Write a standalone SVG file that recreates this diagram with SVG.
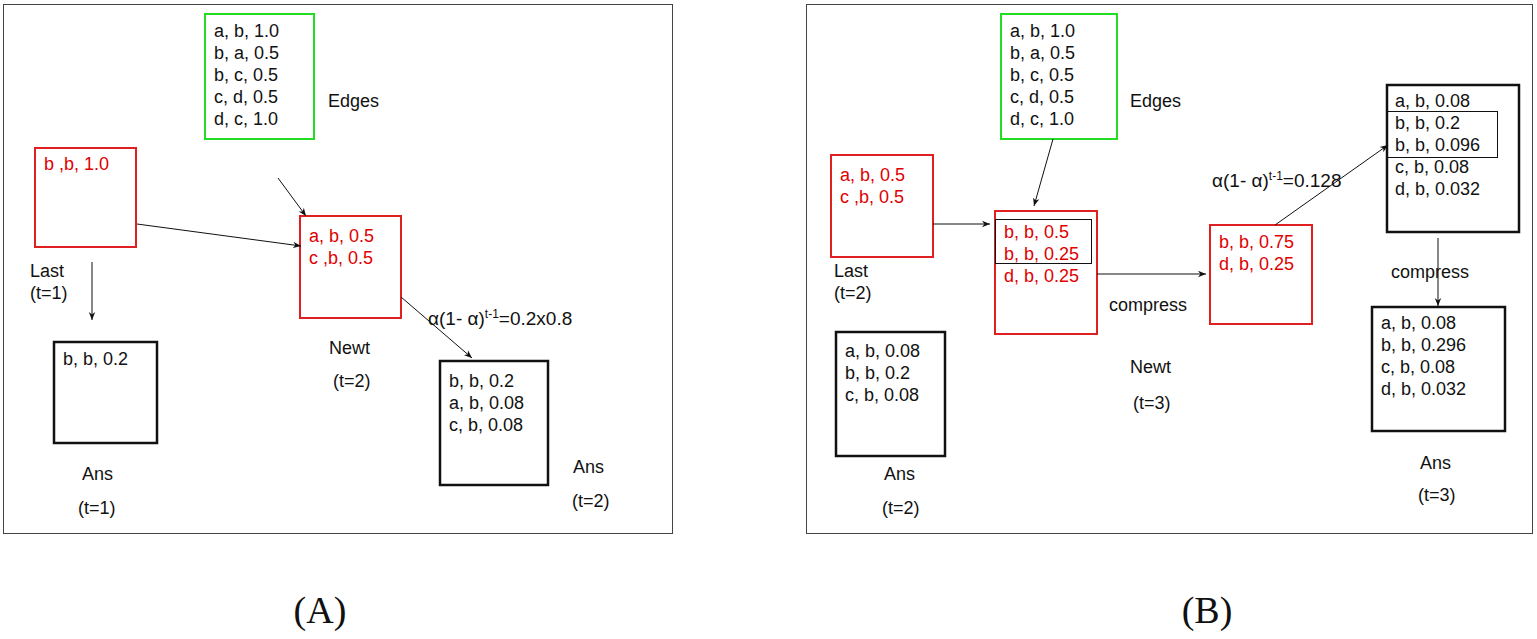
<svg xmlns="http://www.w3.org/2000/svg" width="1537" height="639" viewBox="0 0 1537 639">
<style>
text{font-family:"Liberation Sans",Arial,sans-serif;font-size:18px;fill:#111}
.r{fill:#e00000}
.g{fill:none;stroke:#22dd22;stroke-width:2}
.rb{fill:none;stroke:#e02020;stroke-width:2}
.bb{fill:none;stroke:#111;stroke-width:2.5}
.in{fill:none;stroke:#111;stroke-width:1}
.fr{fill:#fff;stroke:#444;stroke-width:1}
.c line{stroke:#111;stroke-width:1;marker-end:url(#a)}
.cap{font-family:"Liberation Serif","Times New Roman",serif;font-size:38px}
.al{font-size:19px}
</style>
<defs><marker id="a" viewBox="0 0 10 10" refX="10" refY="5" markerWidth="8" markerHeight="8" orient="auto" markerUnits="userSpaceOnUse"><path d="M0,1 L10,5 L0,9 L3,5z" fill="#111"/></marker></defs>
<rect width="1537" height="639" fill="#fff"/>
<rect class="fr" x="3.5" y="4.5" width="669" height="529"/>
<rect class="fr" x="806.5" y="4.5" width="726" height="529"/>
<g id="A-edges"><rect class="g" x="205" y="14" width="109" height="125"/>
<text x="214" y="37">a, b, 1.0</text><text x="214" y="59">b, a, 0.5</text><text x="214" y="81">b, c, 0.5</text><text x="214" y="103">c, d, 0.5</text><text x="214" y="125">d, c, 1.0</text>
<text x="328" y="107">Edges</text></g>
<g id="A-last"><rect class="rb" x="35" y="148" width="101" height="99"/><text class="r" x="44" y="170">b ,b, 1.0</text>
<text x="30" y="277">Last</text><text x="30" y="299">(t=1)</text></g>
<g id="A-newt"><rect class="rb" x="300" y="216" width="101" height="102"/><text class="r" x="309" y="242">a, b, 0.5</text><text class="r" x="309" y="264">c ,b, 0.5</text>
<text x="329" y="354">Newt</text><text x="333" y="387">(t=2)</text></g>
<g id="A-ans1"><rect class="bb" x="54" y="342" width="103" height="101"/><text x="63" y="365">b, b, 0.2</text>
<text x="82" y="480">Ans</text><text x="78" y="514">(t=1)</text></g>
<g id="A-ans2"><rect class="bb" x="440" y="361" width="108" height="124"/><text x="449" y="387">b, b, 0.2</text><text x="449" y="409">a, b, 0.08</text><text x="449" y="431">c, b, 0.08</text>
<text x="573" y="473">Ans</text><text x="572" y="507">(t=2)</text></g>
<text class="al" x="428" y="325">α(1- α)<tspan font-size="12" dy="-7">t-1</tspan><tspan dy="7">=0.2x0.8</tspan></text>

<g id="B-edges"><rect class="g" x="1001" y="14" width="116" height="125"/>
<text x="1010" y="37">a, b, 1.0</text><text x="1010" y="59">b, a, 0.5</text><text x="1010" y="81">b, c, 0.5</text><text x="1010" y="103">c, d, 0.5</text><text x="1010" y="125">d, c, 1.0</text>
<text x="1130" y="107">Edges</text></g>
<g id="B-last"><rect class="rb" x="831" y="155" width="102" height="102"/><text class="r" x="840" y="181">a, b, 0.5</text><text class="r" x="840" y="203">c ,b, 0.5</text>
<text x="834" y="277">Last</text><text x="834" y="299">(t=2)</text></g>
<g id="B-newt"><rect class="rb" x="995" y="211" width="102" height="123"/><rect class="in" x="995.5" y="219.5" width="96" height="44"/>
<text class="r" x="1004" y="238">b, b, 0.5</text><text class="r" x="1004" y="260">b, b, 0.25</text><text class="r" x="1004" y="282">d, b, 0.25</text>
<text x="1130" y="373">Newt</text><text x="1133" y="409">(t=3)</text></g>
<g id="B-comp"><rect class="rb" x="1210" y="225" width="102" height="99"/><text class="r" x="1219" y="248">b, b, 0.75</text><text class="r" x="1219" y="270">d, b, 0.25</text></g>
<g id="B-ans2"><rect class="bb" x="836" y="332" width="109" height="124"/><text x="845" y="357">a, b, 0.08</text><text x="845" y="379">b, b, 0.2</text><text x="845" y="401">c, b, 0.08</text>
<text x="884" y="480">Ans</text><text x="882" y="514">(t=2)</text></g>
<g id="B-merge"><rect class="bb" x="1387" y="85" width="132" height="147"/><rect class="in" x="1387.5" y="111.5" width="110" height="46"/>
<text x="1395" y="107">a, b, 0.08</text><text x="1395" y="129">b, b, 0.2</text><text x="1395" y="151">b, b, 0.096</text><text x="1395" y="173">c, b, 0.08</text><text x="1395" y="195">d, b, 0.032</text></g>
<g id="B-ans3"><rect class="bb" x="1372" y="307" width="133" height="124"/><text x="1381" y="329">a, b, 0.08</text><text x="1381" y="351">b, b, 0.296</text><text x="1381" y="373">c, b, 0.08</text><text x="1381" y="395">d, b, 0.032</text>
<text x="1420" y="469">Ans</text><text x="1418" y="501">(t=3)</text></g>
<text x="1109" y="311">compress</text>
<text x="1391" y="278">compress</text>
<text class="al" x="1212" y="187">α(1- α)<tspan font-size="12" dy="-7">t-1</tspan><tspan dy="7">=0.128</tspan></text>

<g class="c">
<line x1="92" y1="262" x2="92" y2="320"/>
<line x1="278" y1="178" x2="306" y2="216"/>
<line x1="137" y1="224" x2="301" y2="246"/>
<line x1="401" y1="297" x2="472" y2="358"/>
<line x1="933" y1="224" x2="990" y2="224"/>
<line x1="1053" y1="139" x2="1034" y2="206"/>
<line x1="1097" y1="274" x2="1206" y2="274"/>
<line x1="1275" y1="225" x2="1388" y2="145"/>
<line x1="1438" y1="238" x2="1438" y2="306"/>
</g>
<text class="cap" x="320" y="623" text-anchor="middle">(A)</text>
<text class="cap" x="1207" y="623" text-anchor="middle">(B)</text>
</svg>
